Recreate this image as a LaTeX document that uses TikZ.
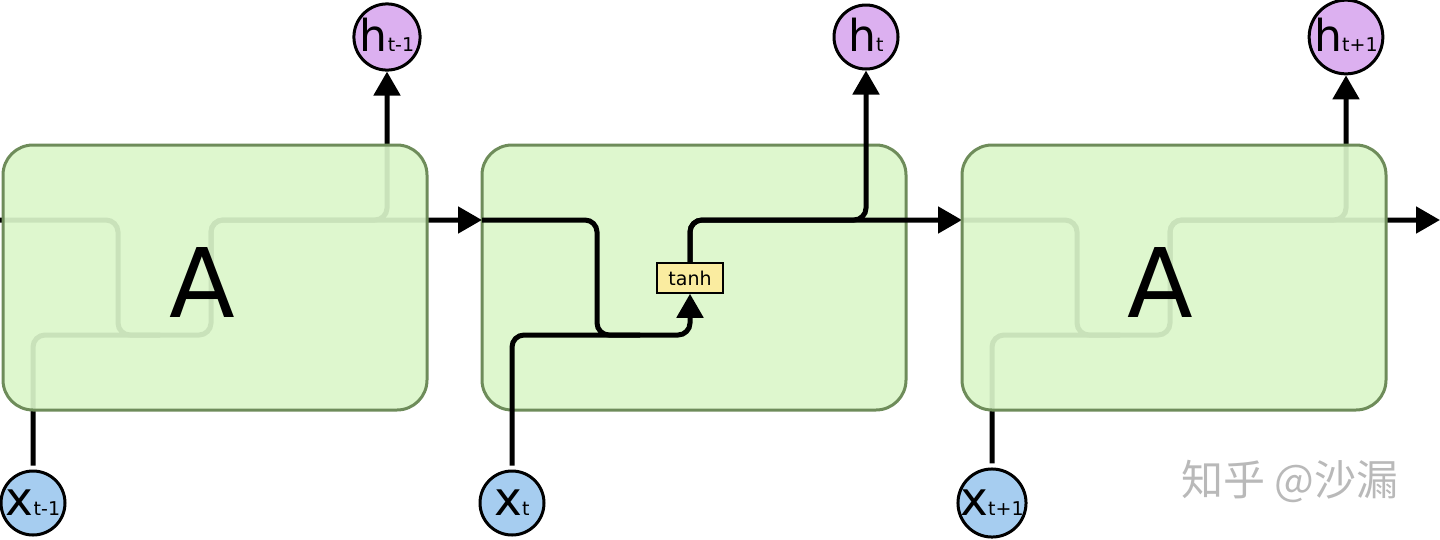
\documentclass[tikz,border=0pt]{standalone}
\usepackage{fontspec}
\setmainfont{DejaVu Sans}
\newfontfamily\cjk{Noto Sans CJK SC}
\usetikzlibrary{arrows.meta}
\definecolor{cellfill}{RGB}{219,246,202}
\definecolor{celldraw}{RGB}{110,140,90}
\definecolor{xfill}{RGB}{166,205,240}
\definecolor{hfill}{RGB}{220,176,240}
\definecolor{tanhfill}{RGB}{250,236,160}
\tikzset{
  cell/.style={draw=celldraw, line width=3pt, fill=cellfill, fill opacity=0.92, text opacity=1,
    rounded corners=30pt, minimum width=424pt, minimum height=265pt, inner sep=0pt},
  wire/.style={line width=5pt, rounded corners=12pt},
  arr/.style={wire, -{Triangle[length=24pt,width=26pt]}},
  xin/.style={circle, draw, line width=3pt, fill=xfill, minimum size=64pt, inner sep=0pt},
  hout/.style={circle, draw, line width=3pt, fill=hfill, minimum size=64pt, inner sep=0pt},
  tanhbox/.style={draw, line width=1.5pt, fill=tanhfill, minimum width=66pt, minimum height=30pt,
    inner sep=0pt, font=\fontsize{19}{19}\selectfont},
  big/.style={font=\fontsize{96}{96}\selectfont},
}
\newcommand{\xlab}[1]{{\fontsize{47}{47}\selectfont x}{\fontsize{19}{19}\selectfont #1}}
\newcommand{\hlab}[1]{\raisebox{4.5pt}{{\fontsize{44}{44}\selectfont h}{\fontsize{19}{19}\selectfont #1}}}
\begin{document}
\begin{tikzpicture}[x=1pt, y=-1pt]
    \useasboundingbox (0,0) rectangle (1440,539);

    \node[cell](C2) at (694,277.5){};

    \coordinate (T1) at (211,278);
    \node[tanhbox](T2) at (690,278){tanh};
    \coordinate (T3) at (1170,278);

    \node[xin](X1) at (33,503){\xlab{t-1}};
    \node[xin](X2) at (512,503){\xlab{t}};
    \node[xin](X3) at (992,503){\xlab{t+1}};
    \node[hout](H1) at (387,37){\hlab{t-1}};
    \node[hout](H2) at (866,37){\hlab{t}};
    \node[hout](H3) at (1346,37){\hlab{t+1}};

    \coordinate (L0) at (0,220);
    \coordinate (I2) at (482,220);
    \coordinate (I3) at (962,220);
    \coordinate (R3) at (1440,220);

    \draw[wire] (L0) -- (118,220) -- (118,335) -| (T1);
    \draw[wire, shorten <=4pt] (X1.north) |- (160,335);
    \draw[arr] (T1) |- (387,220) -- (H1.south);
    \draw[arr] (T1) |- (I2);

    \draw[arr] (I2) -- (597,220) -- (597,335) -| (T2.south);
    \draw[wire, shorten <=4pt] (X2.north) |- (640,335);
    \draw[arr] (T2.north) |- (866,220) -- (H2.south);
    \draw[arr] (T2.north) |- (I3);

    \draw[wire] (I3) -- (1077,220) -- (1077,335) -| (T3);
    \draw[wire, shorten <=4pt] (X3.north) |- (1120,335);
    \draw[arr] (T3) |- (1346,220) -- (H3.south);
    \draw[arr] (T3) |- (R3);

    \node[cell](C1) at (215,277.5){};
    \node[cell](C3) at (1174,277.5){};
    \node[big](A1) at (202,282){A};
    \node[big](A3) at (1160,282){A};

    \node[text=gray!55, font=\cjk\fontsize{42}{42}\selectfont](W) at (1290,481){知乎 @沙漏};
\end{tikzpicture}
\end{document}
